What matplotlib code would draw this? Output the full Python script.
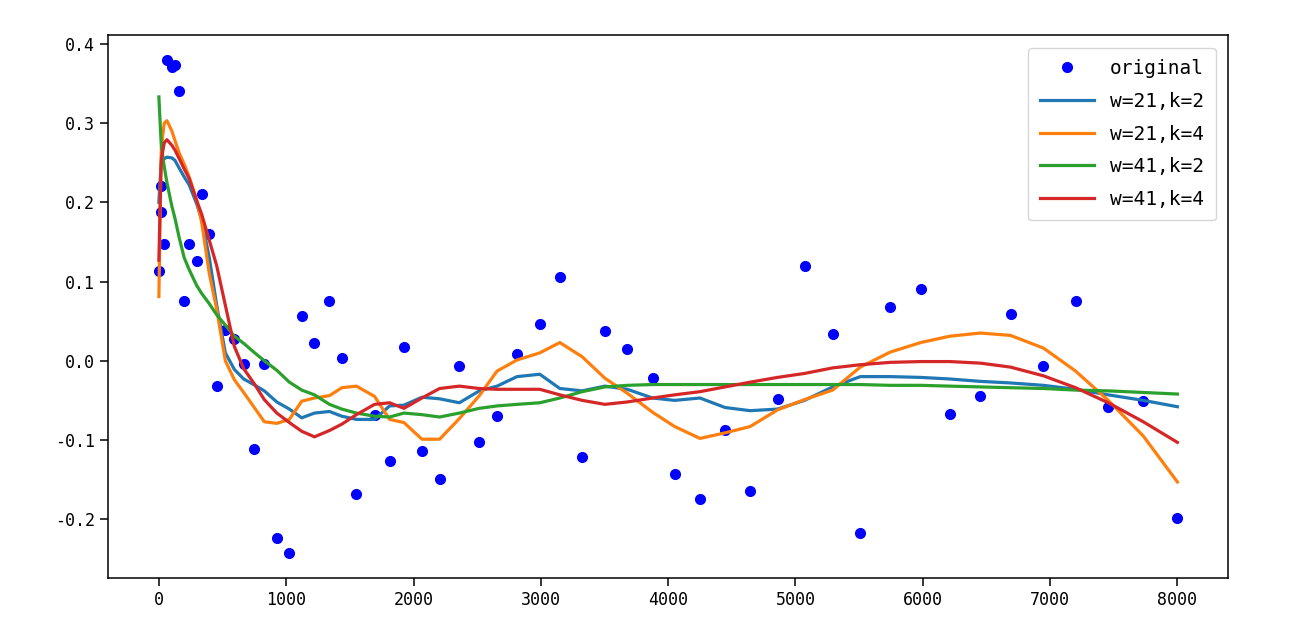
import numpy as np
import matplotlib
matplotlib.use('Agg')
import matplotlib.pyplot as plt

plt.rcParams['font.family'] = ['DejaVu Sans Mono']
plt.rcParams['axes.unicode_minus'] = False

# sample positions and the raw values
x = [0, 16, 20, 42, 63, 102, 126, 160, 199, 238, 297, 336, 396, 454, 522,
     593, 666, 745, 828, 926, 1025, 1122, 1222, 1340, 1437, 1552, 1694, 1812,
     1925, 2066, 2205, 2360, 2517, 2656, 2813, 2992, 3149, 3325, 3503, 3679,
     3878, 4051, 4250, 4447, 4644, 4859, 5071, 5292, 5509, 5745, 5984, 6212,
     6453, 6689, 6948, 7200, 7457, 7732, 8000]
original = [0.113, 0.220, 0.188, 0.147, 0.380, 0.371, 0.373, 0.340, 0.075,
            0.148, 0.126, 0.211, 0.160, -0.032, 0.039, 0.027, -0.004, -0.111,
            -0.004, -0.224, -0.243, 0.057, 0.022, 0.075, 0.003, -0.168, -0.068,
            -0.127, 0.018, -0.114, -0.149, -0.007, -0.102, -0.070, 0.009, 0.047,
            0.106, -0.121, 0.038, 0.015, -0.022, -0.143, -0.174, -0.088, -0.164,
            -0.048, 0.120, 0.034, -0.218, 0.068, 0.091, -0.067, -0.045, 0.059,
            -0.007, 0.075, -0.058, -0.051, -0.199]

w21_k2 = [0.200, 0.245, 0.250, 0.255, 0.257, 0.256, 0.253, 0.243, 0.232, 0.222,
          0.198, 0.178, 0.130, 0.070, 0.010, -0.011, -0.023, -0.030, -0.038,
          -0.052, -0.061, -0.072, -0.066, -0.064, -0.070, -0.074, -0.074, -0.057,
          -0.056, -0.046, -0.048, -0.053, -0.038, -0.032, -0.020, -0.017, -0.035,
          -0.038, -0.032, -0.036, -0.047, -0.050, -0.047, -0.059, -0.063, -0.061,
          -0.050, -0.033, -0.020, -0.020, -0.021, -0.023, -0.026, -0.028, -0.031,
          -0.036, -0.043, -0.050, -0.058]
w21_k4 = [0.081, 0.250, 0.270, 0.300, 0.303, 0.290, 0.278, 0.262, 0.248, 0.232,
          0.203, 0.175, 0.110, 0.065, 0.000, -0.024, -0.040, -0.058, -0.077,
          -0.079, -0.074, -0.051, -0.047, -0.044, -0.034, -0.032, -0.045, -0.074,
          -0.078, -0.099, -0.099, -0.073, -0.044, -0.013, 0.001, 0.010, 0.023,
          0.005, -0.022, -0.041, -0.065, -0.083, -0.098, -0.091, -0.083, -0.062,
          -0.049, -0.037, -0.008, 0.011, 0.023, 0.031, 0.035, 0.032, 0.016,
          -0.013, -0.050, -0.095, -0.153]
w41_k2 = [0.333, 0.280, 0.270, 0.245, 0.225, 0.195, 0.180, 0.155, 0.130, 0.115,
          0.095, 0.085, 0.072, 0.058, 0.045, 0.031, 0.022, 0.011, 0.000, -0.012,
          -0.027, -0.037, -0.043, -0.055, -0.061, -0.066, -0.070, -0.071, -0.066,
          -0.068, -0.071, -0.066, -0.060, -0.057, -0.055, -0.053, -0.047, -0.039,
          -0.033, -0.031, -0.030, -0.030, -0.030, -0.030, -0.030, -0.030, -0.030,
          -0.030, -0.030, -0.031, -0.031, -0.032, -0.033, -0.034, -0.035, -0.037,
          -0.038, -0.040, -0.042]
w41_k4 = [0.127, 0.240, 0.255, 0.275, 0.279, 0.272, 0.266, 0.255, 0.242, 0.230,
          0.202, 0.185, 0.152, 0.120, 0.070, 0.018, -0.010, -0.028, -0.049,
          -0.066, -0.078, -0.089, -0.096, -0.088, -0.080, -0.068, -0.055, -0.053,
          -0.060, -0.047, -0.035, -0.032, -0.035, -0.036, -0.036, -0.036, -0.043,
          -0.050, -0.055, -0.052, -0.047, -0.043, -0.039, -0.033, -0.027, -0.021,
          -0.016, -0.009, -0.005, -0.002, -0.001, -0.001, -0.003, -0.008, -0.019,
          -0.034, -0.053, -0.077, -0.103]

SERIES = [('w=21,k=2', w21_k2), ('w=21,k=4', w21_k4),
          ('w=41,k=2', w41_k2), ('w=41,k=4', w41_k4)]


def main():
    fig = plt.figure(figsize=(13.15, 6.41), dpi=100)
    ax = fig.add_axes([0.0821, 0.0983, 0.852, 0.8471])

    ax.plot(x, original, 'b.', markersize=14, label='original')
    for label, values in SERIES:
        ax.plot(x, values, linewidth=2.3, label=label)

    ax.tick_params(labelsize=12, length=6, width=1.1)
    for spine in ax.spines.values():
        spine.set_linewidth(1.1)

    ax.legend(loc='upper right', fontsize=14, handlelength=2.8,
              labelspacing=0.7, borderpad=0.6, borderaxespad=0.65)

    fig.savefig('out.png', dpi=100)


if __name__ == '__main__':
    main()
